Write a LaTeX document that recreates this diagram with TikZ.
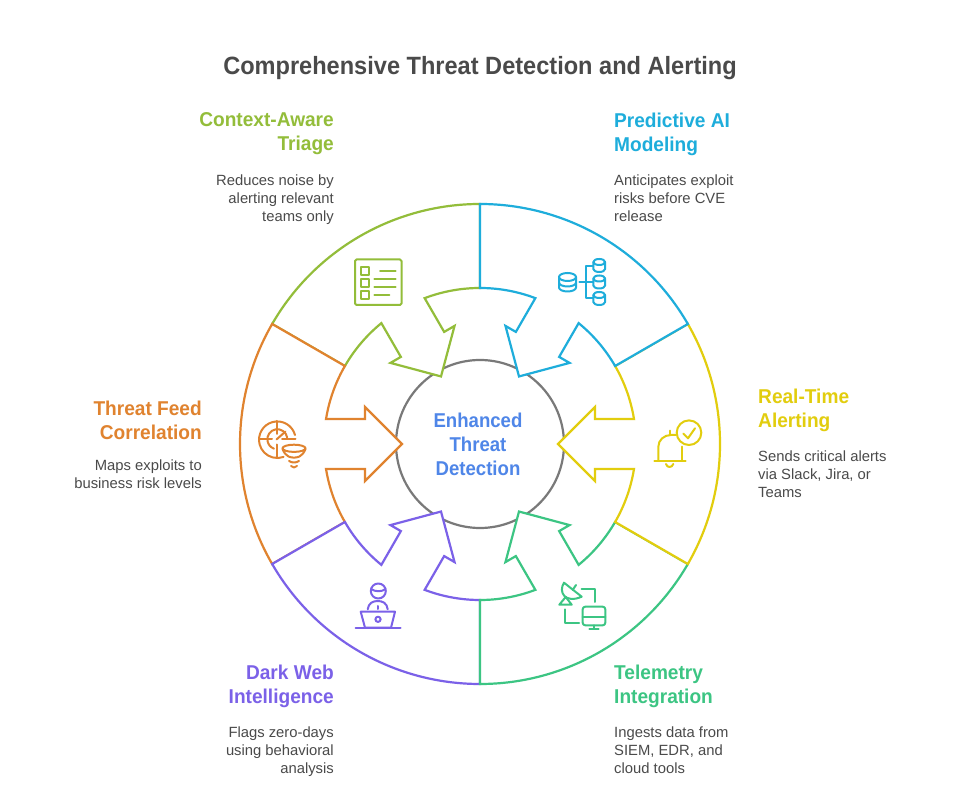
\documentclass[tikz,border=0pt]{standalone}
\usepackage{fontspec}
\setmainfont{Liberation Sans}
\newfontfamily\headfont[FakeStretch=0.955]{Liberation Sans}
\newfontfamily\titlefont[FakeStretch=0.943]{Liberation Sans}
\newfontfamily\hubfont[FakeStretch=0.93]{Liberation Sans}
\definecolor{lime}{HTML}{93BD3A}
\definecolor{sky}{HTML}{1EADDB}
\definecolor{gold}{HTML}{E2CD0E}
\definecolor{teal2}{HTML}{3CC583}
\definecolor{violet2}{HTML}{7B61E8}
\definecolor{orange2}{HTML}{E0832F}
\definecolor{centerblue}{HTML}{4F86E8}
\definecolor{ink}{HTML}{4A4A4A}
\tikzset{
  x=1pt,y=1pt,
  head/.style={font=\headfont\bfseries\fontsize{20}{24}\selectfont,inner sep=0pt},
  desc/.style={font=\fontsize{14.8}{18}\selectfont,text=ink,inner sep=0pt},
  pix/.style={shift={(0,792)},y=-1pt,line width=2pt,line cap=round,line join=round},
}
\newcommand{\sectorshape}[2]{%
  \begin{scope}[shift={(480,348)},rotate=#2]
    \draw[#1,line width=2.2pt,fill=white]
      (30:240pt) arc[start angle=30,end angle=-30,radius=240pt]
      -- (-30:156pt) arc[start angle=-30,end angle=-9.22,radius=156pt]
      -- (115,-25) -- (115,-37) -- (78,0) -- (115,37) -- (115,25)
      -- (9.22:156pt) arc[start angle=9.22,end angle=30,radius=156pt] -- cycle;
  \end{scope}}
\begin{document}
\begin{tikzpicture}
\useasboundingbox (0,0) rectangle (960,792);
\fill[white] (0,0) rectangle (960,792);
\node[draw=gray!95!black,line width=2.2pt,circle,minimum size=168pt,inner sep=0pt,fill=white] (hub) at (480,348) {};
\sectorshape{lime}{120}
\sectorshape{orange2}{180}
\sectorshape{violet2}{240}
\sectorshape{teal2}{300}
\sectorshape{gold}{0}
\sectorshape{sky}{60}
\node[font=\hubfont\bfseries\fontsize{20}{24}\selectfont,text=centerblue,align=center,inner sep=0pt] (hubtext) at (478,348) {Enhanced\\Threat\\Detection};
\node[font=\titlefont\bfseries\fontsize{25}{30}\selectfont,text=ink,inner sep=0pt] (title) at (480,724) {Comprehensive Threat Detection and Alerting};
% labels
\node[head,text=lime,align=right,anchor=east] (h1) at (334,658) {Context-Aware\\Triage};
\node[desc,align=right,anchor=east] (d1) at (334,592) {Reduces noise by\\alerting relevant\\teams only};
\node[head,text=sky,align=left,anchor=west] (h2) at (614,658) {Predictive AI\\Modeling};
\node[desc,align=left,anchor=west] (d2) at (614,594) {Anticipates exploit\\risks before CVE\\release};
\node[head,text=gold,align=left,anchor=west] (h3) at (758,382) {Real-Time\\Alerting};
\node[desc,align=left,anchor=west] (d3) at (758,318) {Sends critical alerts\\via Slack, Jira, or\\Teams};
\node[head,text=teal2,align=left,anchor=west] (h4) at (614,106) {Telemetry\\Integration};
\node[desc,align=left,anchor=west] (d4) at (614,42) {Ingests data from\\SIEM, EDR, and\\cloud tools};
\node[head,text=violet2,align=right,anchor=east] (h5) at (334,106) {Dark Web\\Intelligence};
\node[desc,align=right,anchor=east] (d5) at (334,40) {Flags zero-days\\using behavioral\\analysis};
\node[head,text=orange2,align=right,anchor=east] (h6) at (202,372) {Threat Feed\\Correlation};
\node[desc,align=right,anchor=east] (d6) at (202,318) {Maps exploits to\\business risk levels};
% checklist icon
\begin{scope}[pix,color=lime]
  \draw[rounded corners=1.5pt] (355,259.5) rectangle (401.5,305);
  \foreach \yy in {266.7,279,290.7} \draw (360.7,\yy) rectangle (369.3,\yy+8.3);
  \draw (380,270.7) -- (395.7,270.7);
  \draw (374.3,279) -- (395.7,279);
  \draw (374.3,286.7) -- (395.7,286.7);
  \draw (374.3,295) -- (389.3,295);
\end{scope}
% database icon
\begin{scope}[pix,color=sky]
  \draw (559,277) arc[start angle=180,end angle=-180,x radius=8.5,y radius=4];
  \draw (559,277) -- (559,287.5) arc[start angle=180,end angle=0,x radius=8.5,y radius=4] -- (576,277);
  \draw (559,282.5) arc[start angle=180,end angle=0,x radius=8.5,y radius=4];
  \foreach \yy in {262,278.5,295} {
    \draw (593.3,\yy) arc[start angle=180,end angle=-180,x radius=5.9,y radius=3];
    \draw (593.3,\yy) -- (593.3,\yy+7) arc[start angle=180,end angle=0,x radius=5.9,y radius=3] -- (605.1,\yy);
  }
  \draw (593.3,266) -- (585.7,266) -- (585.7,298.3) -- (593.3,298.3);
  \draw (579.3,282) -- (593.3,282);
\end{scope}
% bell icon
\begin{scope}[pix,color=gold]
  \draw (689,432.7) circle[radius=12.3];
  \draw (683.3,433.5) -- (688,438.3) -- (695,428.3);
  \draw (654.3,461) -- (685.7,461);
  \draw (658.3,461) -- (658.3,447) .. controls (658.3,440) and (664,435) .. (671,435) -- (676,435);
  \draw (682,446.7) -- (682,461);
  \draw (670,430.7) -- (670,435);
  \draw (666,464) .. controls (667,468) and (672,468) .. (673.3,464);
\end{scope}
% satellite icon
\begin{scope}[pix,color=teal2]
  \draw (564,582.7) .. controls (558,592) and (565,604) .. (581.7,596.7) -- cycle;
  \draw (559.3,604.7) -- (571.7,604.7) -- (565.7,597) -- cycle;
  \draw (572.7,590) -- (576,585);
  \draw (581.7,588.7) -- (595,588.7) -- (595,602);
  \draw (565,609.3) -- (565,622.7) -- (579,622.7);
  \draw[rounded corners=2.5pt] (582.7,606.7) rectangle (605.3,625.3);
  \draw (582.7,617.3) -- (605.3,617.3);
  \draw (594,625.3) -- (594,628.7);
  \draw (589.3,628.7) -- (598.7,628.7);
\end{scope}
% analyst icon
\begin{scope}[pix,color=violet2]
  \draw (378.3,591) circle[radius=7.5];
  \draw (371.2,589) .. controls (375,592) and (382,592) .. (385.5,589);
  \draw (367.7,609.3) .. controls (368.5,603) and (373,601) .. (377.7,601) .. controls (382.5,601) and (387,603) .. (387.7,609.3);
  \draw (378.3,606) -- (378.3,609);
  \draw (360.7,611.7) -- (395,611.7) -- (391,627.7) -- (365,627.7) -- cycle;
  \draw (355.5,628.3) -- (400.5,628.3);
  \draw (378,619.3) circle[radius=2.6];
\end{scope}
% radar icon
\begin{scope}[pix,color=orange2]
  \draw (295,435) arc[start angle=-15,end angle=-290,radius=18.3];
  \draw (287.2,437.5) arc[start angle=-10,end angle=-250,radius=10];
  \draw (259,439.3) -- (272,439.3);
  \draw (282,439.3) -- (295.5,439.3);
  \draw (277.3,421) -- (277.3,434);
  \draw (277.3,444.5) -- (277.3,457.5);
  \draw (276.5,439.5) -- (285.5,431.5);
  \draw (294,448.3) ellipse[x radius=11.5,y radius=3.6];
  \draw (282.5,449) .. controls (284,453) and (286,455) .. (288.5,456.5) .. controls (292,458) and (296,458) .. (299.5,456.5) .. controls (302,455) and (304,453) .. (305.5,449);
  \draw (289,461) .. controls (292,463) and (296,463) .. (299,461);
  \draw (291,466) .. controls (293,468) and (295,468) .. (297,466);
\end{scope}
\end{tikzpicture}
\end{document}
